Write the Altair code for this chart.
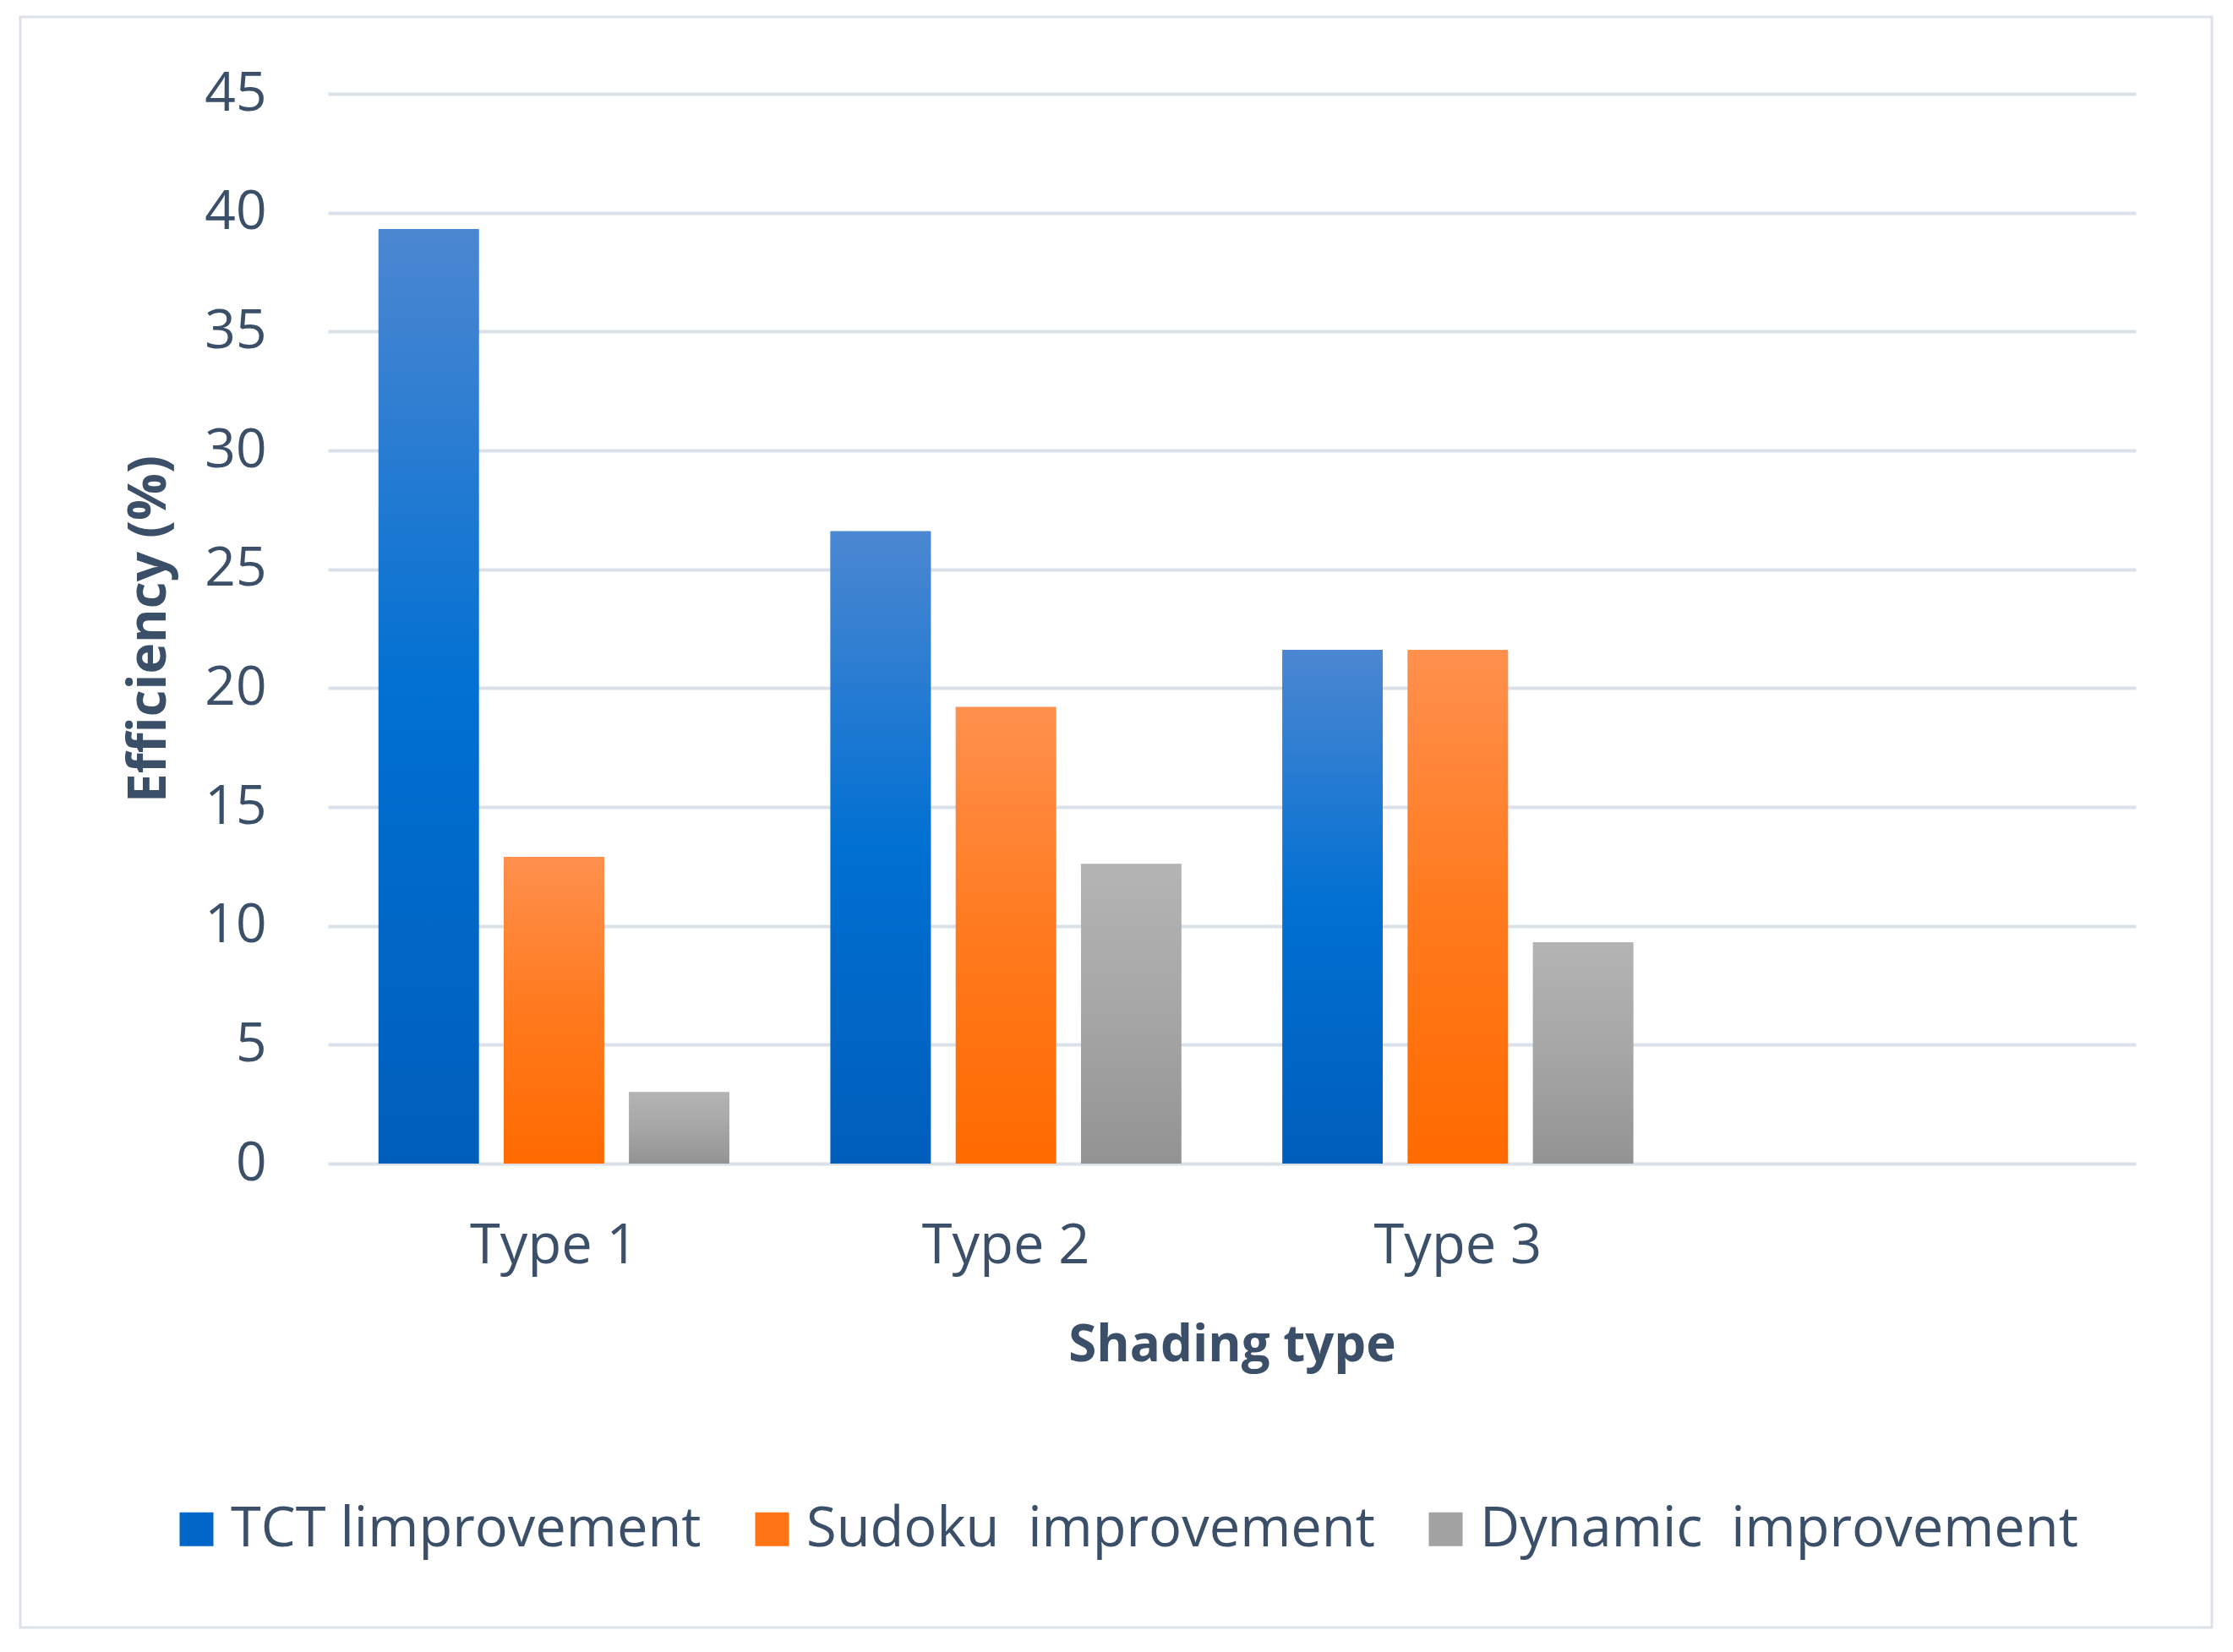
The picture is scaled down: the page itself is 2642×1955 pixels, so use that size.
import altair as alt
import pandas as pd

# ---- data ----
categories = ["Type 1", "Type 2", "Type 3"]
x_domain = categories + [""]          # the reference keeps an empty fourth slot
series = ["TCT limprovement", "Sudoku\u00a0 improvement", "Dynamic\u00a0 improvement"]
tct_values = [39.3, 26.6, 21.6]
sudoku_values = [12.9, 19.2, 21.6]
dynamic_values = [3.0, 12.6, 9.3]
y_ticks = [0, 5, 10, 15, 20, 25, 30, 35, 40, 45]

rows = []
for name, vals in zip(series, [tct_values, sudoku_values, dynamic_values]):
    for cat, v in zip(categories, vals):
        rows.append({"type": cat, "series": name, "value": v})
df = pd.DataFrame(rows)

TEXT = "#3b4f69"
GRID = "#dbe1e9"
legend_colors = ["#0066c8", "#ff7414", "#a3a3a3"]
gradients = [
    [("#4c87d1", 0.0), ("#0070d2", 0.5), ("#005ebb", 1.0)],
    [("#ff904e", 0.0), ("#ff7a1e", 0.5), ("#ff6a00", 1.0)],
    [("#b4b4b4", 0.0), ("#a6a6a6", 0.5), ("#939393", 1.0)],
]

W, H = 2139, 1266

x_enc = alt.X(
    "type:N",
    scale=alt.Scale(domain=x_domain, paddingInner=0.224, paddingOuter=0.112),
    axis=alt.Axis(
        title="Shading type", labelAngle=0, labelFontSize=65, labelColor=TEXT,
        labelPadding=66, labelLimit=1000, ticks=False, tickSize=0, domain=False, grid=False,
        titleFontSize=60, titleFontWeight="bold", titleColor=TEXT,
        titleX=W / 2, titleY=233, titleAlign="center", titleBaseline="alphabetic",
    ),
)
xo_enc = alt.XOffset("series:N", scale=alt.Scale(domain=series, paddingInner=0.2, paddingOuter=0))
y_enc = alt.Y(
    "value:Q",
    scale=alt.Scale(domain=[0, 45], nice=False, zero=True),
    axis=alt.Axis(
        title="Efficiency (%)", values=y_ticks, labelFontSize=64, labelColor=TEXT,
        labelPadding=73, ticks=False, tickSize=0, domain=False, grid=True,
        gridColor=GRID, gridWidth=4, titleFontSize=62, titleFontWeight="bold",
        titleColor=TEXT, titleX=-193, titleY=H / 2, titleAngle=270,
        titleAlign="center", titleBaseline="alphabetic",
    ),
)

frame = alt.Chart(pd.DataFrame({"f": [0]})).mark_rect(
    fill="white", fillOpacity=0, stroke="#dde2e9", strokeWidth=3
).encode(
    x=alt.value(-364), x2=alt.value(2229), y=alt.value(-91), y2=alt.value(1815)
)

legend_layer = alt.Chart(df).mark_bar().encode(
    x=x_enc, xOffset=xo_enc, y=y_enc,
    color=alt.Color(
        "series:N",
        scale=alt.Scale(domain=series, range=legend_colors),
        legend=alt.Legend(
            title=None, orient="none", legendX=-188, legendY=1666,
            direction="horizontal", symbolType="square", symbolSize=1600,
            symbolStrokeWidth=0, labelFontSize=65, labelColor=TEXT,
            labelOffset=8, columnPadding=51, labelLimit=1500, padding=0,
        ),
    ),
)

grad_layers = []
for name, stops in zip(series, gradients):
    grad = alt.Gradient(
        gradient="linear", x1=0, x2=0, y1=0, y2=1,
        stops=[alt.GradientStop(color=c, offset=o) for c, o in stops],
    )
    grad_layers.append(
        alt.Chart(df).transform_filter(alt.datum.series == name)
        .mark_bar(color=grad)
        .encode(x=x_enc, xOffset=xo_enc, y=y_enc)
    )

chart = alt.layer(frame, legend_layer, *grad_layers).properties(
    width=W, height=H,
    autosize=alt.AutoSizeParams(type="none"),
    padding={"left": 380, "top": 103, "right": 107, "bottom": 570},
    background="white",
).configure(font="Open Sans").configure_view(stroke=None)

chart.save("out.html", embed_options={"renderer": "svg", "actions": False})
